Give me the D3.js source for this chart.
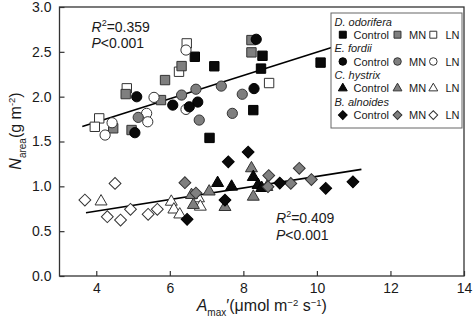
<!DOCTYPE html>
<html><head><meta charset="utf-8">
<script src="https://cdn.jsdelivr.net/npm/d3@7"></script>
<style>body{margin:0;background:#fff}svg{display:block;font-family:"Liberation Sans",Arial,sans-serif}</style>
</head><body><svg id="c" width="474" height="323"></svg>
<script>
// ---- data ----
const xTicks = [4, 6, 8, 10, 12, 14];
const yTicks = [0.0, 0.5, 1.0, 1.5, 2.0, 2.5, 3.0];
const species = ["D. odorifera", "E. fordii", "C. hystrix", "B. alnoides"];
const treatments = ["Control", "MN", "LN"];

const doControl = [[6.68,2.445],[7.21,2.339],[8.52,2.456],[8.48,2.313],[10.10,2.38],[8.27,1.85],[7.08,1.54]];
const doMN = [[6.32,2.341],[5.87,2.185],[4.80,2.029],[5.76,1.962],[4.46,1.647],[4.96,1.628],[8.22,2.494],[8.22,2.631]];
const doLN = [[6.46,2.594],[6.25,2.278],[4.83,2.093],[4.08,1.758],[3.96,1.664],[8.70,2.152]];

const efControl = [[5.10,1.999],[6.08,1.906],[6.76,1.940],[6.53,1.887],[5.05,1.598],[8.29,2.090],[8.35,2.640]];
const efMN = [[6.32,2.018],[6.71,2.083],[7.40,2.118],[7.97,2.027],[7.70,1.814],[6.80,1.739],[5.14,1.769]];
const efLN = [[6.44,2.52],[5.57,1.992],[6.44,1.858],[4.43,1.709],[4.24,1.572],[5.37,1.814],[5.40,1.72]];

const chControl = [[7.30,1.037],[7.68,0.996],[8.27,1.104],[8.40,1.015],[8.50,0.981]];
const chMN = [[8.22,1.201],[7.07,0.942],[7.50,0.769],[8.27,0.884],[6.59,0.903],[6.64,0.792],[8.64,0.992]];
const chLN = [[4.13,0.831],[6.04,0.828],[6.11,0.741],[6.27,0.686],[6.78,0.866],[6.83,0.773]];

const baControl = [[8.13,1.382],[7.59,1.274],[7.50,0.847],[6.47,0.632],[8.99,1.037],[10.24,0.978],[10.98,1.051]];
const baMN = [[6.41,1.040],[8.69,1.120],[9.52,1.201],[9.85,1.076],[9.29,1.033],[8.67,0.996],[6.71,0.925]];
const baLN = [[3.69,0.847],[4.51,1.033],[4.30,0.661],[4.66,0.624],[4.93,0.744],[5.41,0.688],[5.66,0.744]];

// regression fits: [x0, x1, intercept, slope]
const fitUpper = [3.62, 10.4, 1.197, 0.130];
const fitLower = [3.72, 11.21, 0.466, 0.0645];
const statsUpper = ["0.359", "<0.001"];
const statsLower = ["0.409", "<0.001"];

const seriesData = {
  "D. odorifera": {Control: doControl, MN: doMN, LN: doLN},
  "E. fordii": {Control: efControl, MN: efMN, LN: efLN},
  "C. hystrix": {Control: chControl, MN: chMN, LN: chLN},
  "B. alnoides": {Control: baControl, MN: baMN, LN: baLN}
};

// ---- styles ----
const fillOf = {Control: "#0a0a0a", MN: "#7f7f7f", LN: "#ffffff"};
const strokeOf = {Control: "#000", MN: "#333", LN: "#333"};
const shapeOf = {"D. odorifera": "square", "E. fordii": "circle", "C. hystrix": "triangle", "B. alnoides": "diamond"};

function symPath(shape, scale) {
  const k = scale || 1;
  if (shape === "square") return d3.symbol(d3.symbolSquare, 88 * k)();
  if (shape === "circle") return d3.symbol(d3.symbolCircle, 82 * k)();
  if (shape === "triangle") return d3.symbol(d3.symbolTriangle, 62 * k)();
  if (shape === "diamond") return d3.symbol(d3.symbolSquare, 70 * k)();
}

const svg = d3.select("#c");
const L = 59.5, R = 464, T = 7, B = 276;
const x = d3.scaleLinear().domain([3, 14]).range([L, R]);
const y = d3.scaleLinear().domain([0, 3]).range([B, T]);
const txt = "#1a1a1a";

// axes
const xAxis = d3.axisBottom(x).tickValues(xTicks).tickSizeInner(-5).tickSizeOuter(0).tickPadding(7).tickFormat(d3.format("d"));
const yAxis = d3.axisLeft(y).tickValues(yTicks).tickSizeInner(-5).tickSizeOuter(0).tickPadding(8).tickFormat(d3.format(".1f"));
const gx = svg.append("g").attr("transform", `translate(0,${B})`).call(xAxis);
const gy = svg.append("g").attr("transform", `translate(${L},0)`).call(yAxis);
[gx, gy].forEach(g => {
  g.selectAll("text").attr("font-size", 14).attr("fill", txt).attr("font-family", "Liberation Sans, Arial, sans-serif");
  g.selectAll("line").attr("stroke", "#333").attr("stroke-width", 1.2);
  g.select(".domain").remove();
});
svg.append("rect").attr("x", L).attr("y", T).attr("width", R - L).attr("height", B - T)
  .attr("fill", "none").attr("stroke", "#333").attr("stroke-width", 1.3);

// regression lines
[fitUpper, fitLower].forEach(f => {
  svg.append("line").attr("x1", x(f[0])).attr("y1", y(f[2] + f[3] * f[0]))
    .attr("x2", x(f[1])).attr("y2", y(f[2] + f[3] * f[1]))
    .attr("stroke", "#000").attr("stroke-width", 1.6);
});

// points
const pts = svg.append("g");
species.forEach(sp => {
  treatments.slice().reverse().forEach(tr => {
    pts.selectAll(null).data(seriesData[sp][tr]).enter().append("path")
      .attr("d", symPath(shapeOf[sp]))
      .attr("transform", d => `translate(${x(d[0])},${y(d[1])})` + (shapeOf[sp] === "diamond" ? " rotate(45)" : ""))
      .attr("fill", fillOf[tr]).attr("stroke", strokeOf[tr]).attr("stroke-width", 1);
  });
});

// stats annotations
function stats(g, xx, yy, s) {
  const t1 = g.append("text").attr("x", xx).attr("y", yy).attr("font-size", 14).attr("fill", txt);
  t1.append("tspan").attr("font-style", "italic").text("R");
  t1.append("tspan").attr("font-size", 9).attr("dy", -6).text("2");
  t1.append("tspan").attr("dy", 6).text("=" + s[0]);
  const t2 = g.append("text").attr("x", xx).attr("y", yy + 16.5).attr("font-size", 14).attr("fill", txt);
  t2.append("tspan").attr("font-style", "italic").text("P");
  t2.append("tspan").text(s[1]);
}
stats(svg, 91.5, 31.5, statsUpper);
stats(svg, 276, 223, statsLower);

// legend
const lg = svg.append("g");
lg.append("rect").attr("x", 331).attr("y", 13).attr("width", 131).attr("height", 115)
  .attr("fill", "#fff").attr("stroke", "#666").attr("stroke-width", 1);
species.forEach((sp, i) => {
  const by = 25.5 + i * 26.8;
  lg.append("text").attr("x", 334.5).attr("y", by).attr("font-size", 11).attr("font-style", "italic").attr("fill", txt).text(sp);
  const ry = by + 13.2;
  const cols = [[342.8, 353.5, "Control"], [397.5, 409, "MN"], [433.3, 445.5, "LN"]];
  treatments.forEach((tr, j) => {
    lg.append("path").attr("d", symPath(shapeOf[sp], 0.55))
      .attr("transform", `translate(${cols[j][0]},${ry - 4})` + (shapeOf[sp] === "diamond" ? " rotate(45)" : ""))
      .attr("fill", fillOf[tr]).attr("stroke", strokeOf[tr]).attr("stroke-width", 1);
    lg.append("text").attr("x", cols[j][1]).attr("y", ry).attr("font-size", 11).attr("fill", txt).text(tr);
  });
});

// axis titles
const xt = svg.append("text").attr("x", x(8.5)).attr("y", 311).attr("text-anchor", "middle").attr("font-size", 16).attr("fill", txt);
xt.append("tspan").attr("font-style", "italic").text("A");
xt.append("tspan").attr("font-size", 10).attr("dy", 5).text("max");
xt.append("tspan").attr("dy", -5).text("\u2032(\u03bcmol m");
xt.append("tspan").attr("font-size", 9.5).attr("dy", -5.5).text("\u22122");
xt.append("tspan").attr("dy", 5.5).text(" s");
xt.append("tspan").attr("font-size", 9.5).attr("dy", -5.5).text("\u22121");
xt.append("tspan").attr("dy", 5.5).text(")");

const yt = svg.append("text").attr("transform", `translate(21,131) rotate(-90)`).attr("text-anchor", "middle").attr("font-size", 16).attr("fill", txt);
yt.append("tspan").attr("font-style", "italic").text("N");
yt.append("tspan").attr("font-size", 10).attr("dy", 5).text("area");
yt.append("tspan").attr("dy", -5).text("(g m");
yt.append("tspan").attr("font-size", 9.5).attr("dy", -6).text("-2");
yt.append("tspan").attr("dy", 6).text(")");
</script></body></html>
